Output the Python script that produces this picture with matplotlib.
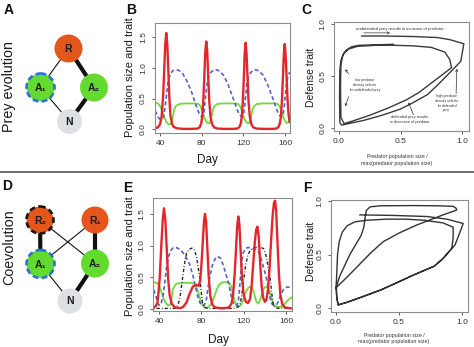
import matplotlib
matplotlib.use('Agg')
import matplotlib.pyplot as plt
from matplotlib.patches import Circle

plt.rcParams['font.family'] = ['Liberation Sans', 'DejaVu Sans']

# ---------------- data ----------------
# Panel B (prey evolution) time series
b_red_day = [35, 36, 38, 40, 41.5, 43, 44, 45, 46, 47, 48, 49, 50, 51.5, 53, 56, 62, 70,
             76, 78, 79.5, 80.5, 81.5, 82.5, 83.5, 84.4, 85.3, 86.3, 87.3, 88.5, 90, 92, 95, 102, 110,
             114, 116, 117.5, 118.5, 119.5, 120.5, 121.3, 122.2, 123, 124, 125, 126.2, 127.7, 129.5, 132.5, 140, 148,
             151.5, 153.5, 155, 156, 157, 158, 158.9, 159.7, 160.5, 161.5, 162.5, 163.5, 164.5]
b_red_val = [0.02, 0.02, 0.03, 0.08, 0.2, 0.55, 0.95, 1.38, 1.57, 1.38, 0.95, 0.5, 0.22, 0.09, 0.04, 0.015, 0.005, 0.005,
             0.01, 0.03, 0.09, 0.2, 0.45, 0.85, 1.28, 1.43, 1.28, 0.85, 0.45, 0.2, 0.08, 0.03, 0.01, 0.005, 0.005,
             0.01, 0.03, 0.09, 0.2, 0.45, 0.85, 1.25, 1.41, 1.25, 0.85, 0.45, 0.2, 0.08, 0.03, 0.01, 0.005, 0.005,
             0.01, 0.03, 0.09, 0.2, 0.45, 0.85, 1.24, 1.39, 1.24, 0.85, 0.45, 0.22, 0.12]
b_green_day = [35, 38, 40, 42, 44, 46, 48, 50, 51.5, 52.5, 53.5, 55, 57, 60, 66, 74, 77, 79, 80.5, 82, 83.5, 85.5, 87.5,
               89, 90, 91, 92.5, 95, 100, 112, 115, 117, 118.5, 120, 121.5, 123.5, 125.5, 127, 128, 129, 130.5, 133,
               138, 150, 153, 155, 156.5, 158, 159.5, 161.5, 163, 164.5]
b_green_val = [0.43, 0.42, 0.38, 0.3, 0.2, 0.12, 0.08, 0.08, 0.12, 0.22, 0.31, 0.37, 0.4, 0.415, 0.42, 0.42, 0.41, 0.37,
               0.3, 0.22, 0.15, 0.1, 0.1, 0.16, 0.26, 0.33, 0.38, 0.41, 0.42, 0.42, 0.41, 0.37, 0.3, 0.22, 0.15, 0.1,
               0.1, 0.16, 0.26, 0.33, 0.38, 0.41, 0.42, 0.42, 0.41, 0.37, 0.3, 0.22, 0.15, 0.1, 0.11, 0.16]
b_blue_day = [35, 36, 38, 40, 42, 43.5, 45, 46.5, 48, 50, 52, 55, 58, 62, 66, 70, 73, 76, 78, 80, 81.5, 82.5, 83.5, 85,
              86.5, 88.5, 91, 94, 97, 101, 105, 109, 112, 114.5, 116.5, 118.5, 120, 121, 122, 123.3, 124.8, 126.8,
              129.5, 132, 135, 139, 143, 147, 150, 152.5, 154.5, 156.5, 158, 159, 160, 161.3, 162.8, 164.5]
b_blue_val = [0.3, 0.28, 0.2, 0.16, 0.16, 0.22, 0.38, 0.6, 0.8, 0.9, 0.95, 0.97, 0.96, 0.9, 0.78, 0.62, 0.47, 0.32,
              0.24, 0.2, 0.22, 0.32, 0.5, 0.72, 0.85, 0.92, 0.96, 0.97, 0.95, 0.88, 0.74, 0.56, 0.42, 0.3, 0.23, 0.2,
              0.23, 0.33, 0.5, 0.72, 0.85, 0.92, 0.96, 0.97, 0.95, 0.88, 0.74, 0.56, 0.42, 0.3, 0.23, 0.2, 0.23, 0.33,
              0.5, 0.72, 0.87, 0.93]

# Panel E (coevolution) time series
e_red_day = [35, 37, 38.5, 39.5, 40.7, 42, 43.5, 44.7, 46, 47.3, 48.6, 50, 52, 55, 60, 63, 66, 69, 72, 75.5, 77.5, 79,
             80.3, 81.5, 82.6, 83.5, 84.5, 85.7, 87, 88.5, 90.5, 93, 100, 106, 108.5, 110, 111.5, 112.8, 114, 115,
             116, 117.2, 118.5, 120, 122, 124, 126, 127.5, 129, 130.5, 131.8, 133, 134.2, 135.5, 137, 138.5, 140,
             141.5, 143, 144.5, 146, 147.5, 148.7, 149.7, 150.7, 152, 153.3, 154.7, 156.5, 159, 165]
e_red_val = [0.02, 0.04, 0.1, 0.25, 0.5, 0.95, 1.4, 1.59, 1.4, 0.95, 0.48, 0.22, 0.08, 0.02, 0.01, 0.03, 0.1, 0.24,
             0.35, 0.38, 0.36, 0.45, 0.75, 1.1, 1.4, 1.5, 1.38, 0.95, 0.5, 0.2, 0.06, 0.02, 0.005, 0.02, 0.08, 0.22,
             0.55, 0.95, 1.33, 1.46, 1.33, 0.9, 0.48, 0.22, 0.11, 0.09, 0.15, 0.35, 0.7, 1.05, 1.25, 1.3, 1.15, 0.75,
             0.35, 0.17, 0.11, 0.14, 0.3, 0.65, 1.1, 1.5, 1.68, 1.71, 1.55, 1.05, 0.55, 0.22, 0.07, 0.02, 0.005]
e_blue_day = [35, 37, 39, 40.5, 42, 44, 45.5, 47, 49, 51, 53, 56, 60, 63, 66, 69, 72, 74, 76.5, 78.5, 80.5, 82.5, 84.5,
              86.5, 88.5, 91, 93.5, 95.5, 98, 100.5, 103, 105.5, 108, 110, 112, 113.5, 115, 116.5, 118, 119.5, 121.5,
              124, 127, 130, 133, 135.5, 138, 140.5, 142.5, 144.5, 146.5, 148.5, 151, 153, 155, 157.5, 160, 163, 165]
e_blue_val = [0.3, 0.2, 0.08, 0.05, 0.08, 0.22, 0.42, 0.64, 0.82, 0.92, 0.96, 0.97, 0.94, 0.88, 0.8, 0.7, 0.53, 0.38,
              0.2, 0.1, 0.05, 0.05, 0.12, 0.35, 0.55, 0.72, 0.8, 0.83, 0.8, 0.7, 0.56, 0.42, 0.22, 0.1, 0.05, 0.05,
              0.12, 0.4, 0.72, 0.88, 0.95, 0.97, 0.96, 0.95, 0.93, 0.85, 0.7, 0.55, 0.4, 0.2, 0.08, 0.05, 0.06, 0.12,
              0.22, 0.3, 0.34, 0.34, 0.32]
e_black_day = [35, 55, 58, 60, 62, 64, 66, 68.5, 71, 73.5, 75.5, 77, 78.6, 80, 81.2, 83, 86, 110, 114, 116.5, 118, 120,
               122, 124, 126, 130, 135, 139, 141, 143, 145, 146.5, 148, 150, 165]
e_black_val = [0.005, 0.005, 0.06, 0.2, 0.45, 0.7, 0.88, 0.94, 0.96, 0.93, 0.82, 0.65, 0.49, 0.25, 0.08, 0.02, 0.005,
               0.005, 0.02, 0.06, 0.2, 0.45, 0.7, 0.85, 0.92, 0.97, 0.98, 0.95, 0.85, 0.68, 0.49, 0.25, 0.07, 0.01,
               0.005]
e_green_day = [35, 38, 40, 42, 44, 46, 48, 50, 51.5, 53, 55, 57, 62, 70, 73, 75, 77, 79, 81, 83, 86, 88, 90, 92, 94,
               96, 98, 101, 105, 107, 108.5, 110, 111.5, 113, 115, 117, 119, 121, 123, 125, 127, 129, 130.5, 132,
               133.5, 135, 137, 139, 141, 143, 145, 147, 149, 152, 155, 158, 161, 165]
e_green_val = [0.42, 0.41, 0.37, 0.28, 0.18, 0.1, 0.06, 0.05, 0.12, 0.3, 0.37, 0.4, 0.41, 0.41, 0.4, 0.35, 0.27, 0.15,
               0.06, 0.02, 0.02, 0.05, 0.1, 0.18, 0.28, 0.36, 0.4, 0.42, 0.42, 0.4, 0.33, 0.22, 0.12, 0.06, 0.03,
               0.05, 0.12, 0.22, 0.3, 0.34, 0.35, 0.3, 0.2, 0.11, 0.08, 0.11, 0.22, 0.32, 0.35, 0.33, 0.24, 0.12,
               0.05, 0.03, 0.03, 0.06, 0.12, 0.18]

# Panel C phase loop (predator / max, defense trait)
c_pred = [0.185, 0.35, 0.6, 0.8, 0.9, 1.015, 0.99, 0.9, 0.8, 0.72, 0.6, 0.5, 0.35, 0.2, 0.08, 0.02, 0.006, 0.004,
          0.006, 0.015, 0.04, 0.08, 0.15, 0.3, 0.45, 0.6, 0.75, 0.86, 0.9, 0.915, 0.85, 0.75, 0.65, 0.55, 0.4,
          0.25, 0.1, 0.04, 0.015, 0.012, 0.015, 0.03, 0.06, 0.1, 0.16, 0.3, 0.44]
c_trait = [0.885, 0.885, 0.88, 0.87, 0.85, 0.81, 0.64, 0.53, 0.41, 0.32, 0.24, 0.18, 0.12, 0.07, 0.04, 0.025, 0.05,
           0.3, 0.55, 0.65, 0.72, 0.76, 0.785, 0.795, 0.795, 0.79, 0.775, 0.73, 0.66, 0.58, 0.52, 0.43, 0.34, 0.27,
           0.19, 0.12, 0.06, 0.04, 0.1, 0.4, 0.6, 0.7, 0.75, 0.78, 0.795, 0.8, 0.805]

# Panel F phase loop
f_pred = [0.19, 0.45, 0.72, 0.88, 1.01, 0.975, 0.945, 0.85, 0.78, 0.62, 0.5, 0.36, 0.2, 0.08, 0.016, 0.005, 0.0,
          0.005, 0.012, 0.025, 0.05, 0.09, 0.15, 0.244, 0.4, 0.55, 0.7, 0.85, 0.93, 0.93, 0.92, 0.85, 0.78, 0.62,
          0.5, 0.36, 0.2, 0.08, 0.018, 0.006, 0.003, 0.03, 0.07, 0.11, 0.16, 0.2, 0.222, 0.23, 0.24, 0.27, 0.35,
          0.6, 0.8, 0.93, 0.955, 0.958, 0.85, 0.64, 0.5, 0.375, 0.28, 0.18, 0.08, 0.0]
f_trait = [0.87, 0.865, 0.855, 0.83, 0.79, 0.68, 0.59, 0.46, 0.39, 0.31, 0.245, 0.17, 0.1, 0.05, 0.028, 0.1, 0.19,
           0.3, 0.5, 0.62, 0.71, 0.77, 0.805, 0.82, 0.83, 0.83, 0.82, 0.795, 0.755, 0.66, 0.56, 0.465, 0.392,
           0.312, 0.247, 0.172, 0.102, 0.052, 0.03, 0.1, 0.2, 0.3, 0.4, 0.5, 0.6, 0.68, 0.76, 0.84, 0.91, 0.945,
           0.955, 0.957, 0.955, 0.95, 0.93, 0.915, 0.87, 0.775, 0.7, 0.62, 0.52, 0.40, 0.28, 0.19]

day_ticks = [40, 80, 120, 160]
pop_ticks = [0.0, 0.5, 1.0, 1.5]
unit_ticks = [0.0, 0.5, 1.0]

# ---------------- styles / layout ----------------
W, H = 474, 347
RED = '#e3262b'
GREEN_L = '#72d93c'
BLUE_L = '#5362c8'
BLACK_L = '#2a2a2a'
ORANGE = '#e4561c'
GREEN_N = '#63db2e'
GRAY_N = '#dde1e4'

fig = plt.figure(figsize=(W / 100, H / 100), dpi=100)


def rect(l, t, r, b):
    return [l / W, 1 - b / H, (r - l) / W, (b - t) / H]


def ftext(x, y, s, **kw):
    fig.text(x / W, 1 - y / H, s, **kw)


bg = fig.add_axes([0, 0, 1, 1])
bg.set_xlim(0, W)
bg.set_ylim(H, 0)
bg.axis('off')

# separator
bg.plot([0, W], [172, 172], color='#6e6e6e', lw=1.4, solid_capstyle='butt')


def network(nodes, edges):
    for a, b, w in edges:
        xa, ya = nodes[a][0], nodes[a][1]
        xb, yb = nodes[b][0], nodes[b][1]
        bg.plot([xa, xb], [ya, yb], color='#111111', lw=w, zorder=1, solid_capstyle='butt')
    for name, (x, y, r, col, edge, label) in nodes.items():
        if edge is None:
            c = Circle((x, y), r, facecolor=col, edgecolor='none', zorder=2)
        else:
            c = Circle((x, y), r, facecolor=col, edgecolor=edge, lw=1.9,
                       linestyle=(0, (2.2, 1.3)), zorder=2)
        bg.add_patch(c)
        bg.text(x, y + 0.5, label, ha='center', va='center', fontsize=7.5, fontweight='bold',
                color='#1e1e1e', zorder=3)


nodes_a = {
    'R': (68.5, 48.5, 14, ORANGE, None, 'R'),
    'A1': (40.5, 87.5, 14, GREEN_N, '#2c6fd8', 'A₁'),
    'A2': (94.0, 87.5, 14, GREEN_N, None, 'A₂'),
    'N': (69.5, 121.5, 12.5, GRAY_N, None, 'N'),
}
edges_a = [('R', 'A1', 0.8), ('R', 'A2', 3.0), ('A1', 'N', 0.8), ('A2', 'N', 3.0)]
network(nodes_a, edges_a)

nodes_d = {
    'R2': (40.0, 220.0, 13.5, ORANGE, '#151515', 'R₂'),
    'R1': (95.0, 220.0, 13.5, ORANGE, None, 'R₁'),
    'A1': (40.5, 264.0, 14, GREEN_N, '#2c6fd8', 'A₁'),
    'A2': (95.0, 263.5, 14, GREEN_N, None, 'A₂'),
    'N': (70.0, 301.0, 12.5, GRAY_N, None, 'N'),
}
edges_d = [('R2', 'A1', 3.0), ('R1', 'A2', 3.0), ('R2', 'A2', 0.8), ('R1', 'A1', 0.8),
           ('A1', 'N', 0.8), ('A2', 'N', 3.0)]
network(nodes_d, edges_d)

# side titles and panel letters
ftext(9, 86, 'Prey evolution', rotation=90, ha='center', va='center', fontsize=10.3, color='#1a1a1a')
ftext(9, 247, 'Coevolution', rotation=90, ha='center', va='center', fontsize=10.3, color='#1a1a1a')
for (x, y, s) in [(9, 10, 'A'), (131.5, 10, 'B'), (306, 10, 'C'),
                  (7.5, 186.5, 'D'), (127.5, 187.5, 'E'), (307.5, 187.5, 'F')]:
    ftext(x, y, s, ha='center', va='center', fontsize=10, fontweight='bold', color='#111111')


def style(ax, xt, xl, yt, yl):
    for s in ax.spines.values():
        s.set_color('#8c8c8c')
        s.set_linewidth(0.8)
    ax.set_xticks(xt)
    ax.set_xticklabels(xl)
    ax.set_yticks(yt)
    ax.set_yticklabels(yl, rotation=90, va='center')
    ax.tick_params(axis='both', direction='out', length=2.5, width=0.6, colors='#444444',
                   labelsize=6, labelcolor='#333333')
    ax.tick_params(axis='x', pad=2.5)
    ax.tick_params(axis='y', pad=3)


def timeseries(ax, red, green, blue, black=None):
    ax.plot(green[0], green[1], color=GREEN_L, lw=1.3)
    ax.plot(blue[0], blue[1], color=BLUE_L, lw=1.2, linestyle=(0, (2.4, 1.6)))
    if black is not None:
        ax.plot(black[0], black[1], color=BLACK_L, lw=1.0, linestyle=(0, (0.6, 1.4, 2.4, 1.4)))
    ax.plot(red[0], red[1], color=RED, lw=1.7)


# Panel B
axB = fig.add_axes(rect(154.5, 23.3, 289.5, 133.3))
timeseries(axB, (b_red_day, b_red_val), (b_green_day, b_green_val), (b_blue_day, b_blue_val))
axB.set_xlim(34.7, 164.3)
axB.set_ylim(-0.067, 1.727)
style(axB, day_ticks, [str(d) for d in day_ticks], pop_ticks, ['%.1f' % v for v in pop_ticks])
ftext(130, 77, 'Population size and trait', rotation=90, ha='center', va='center', fontsize=8, color='#1a1a1a')
ftext(207, 160, 'Day', ha='center', va='center', fontsize=8.5, color='#1a1a1a')

# Panel E
axE = fig.add_axes(rect(153.3, 198, 291.7, 311))
timeseries(axE, (e_red_day, e_red_val), (e_green_day, e_green_val), (e_blue_day, e_blue_val),
           (e_black_day, e_black_val))
axE.set_xlim(34.6, 165.4)
axE.set_ylim(-0.036, 1.753)
style(axE, day_ticks, [str(d) for d in day_ticks], pop_ticks, ['%.1f' % v for v in pop_ticks])
ftext(130, 256, 'Population size and trait', rotation=90, ha='center', va='center', fontsize=8, color='#1a1a1a')
ftext(218, 340, 'Day', ha='center', va='center', fontsize=8.5, color='#1a1a1a')

# Panel C
axC = fig.add_axes(rect(334, 22, 469, 131))
axC.plot(c_pred, c_trait, color='#3a3a3a', lw=1.0)
axC.set_xlim(-0.041, 1.057)
axC.set_ylim(-0.032, 1.02)
style(axC, unit_ticks, ['%.1f' % v for v in unit_ticks], unit_ticks, ['%.1f' % v for v in unit_ticks])
ftext(311, 77, 'Defense trait', rotation=90, ha='center', va='center', fontsize=7.5, color='#1a1a1a')
ftext(397, 157, 'Predator population size /', ha='center', va='center', fontsize=3.8, color='#333333')
ftext(397, 163.5, 'max(predator population size)', ha='center', va='center', fontsize=3.8, color='#333333')

ann_kw = dict(ha='center', va='center', color='#333333')
arrow_kw = dict(arrowstyle='->', lw=0.5, color='#333333', mutation_scale=4, shrinkA=0, shrinkB=0)
axC.text(0.496, 0.952, 'undefended prey results in increase of predator', fontsize=3.1, **ann_kw)
axC.annotate('', xy=(0.415, 0.915), xytext=(0.2, 0.915), arrowprops=arrow_kw)
axC.text(0.21, 0.414, 'low predator\ndensity selects\nfor undefended prey', fontsize=2.5, linespacing=1.4, **ann_kw)
axC.annotate('', xy=(0.05, 0.565), xytext=(0.078, 0.52), arrowprops=arrow_kw)
axC.annotate('', xy=(0.05, 0.205), xytext=(0.078, 0.30), arrowprops=arrow_kw)
axC.text(0.875, 0.237, 'high predator\ndensity selects\nfor defended\nprey', fontsize=2.5, linespacing=1.3, **ann_kw)
axC.annotate('', xy=(0.958, 0.57), xytext=(0.952, 0.33), arrowprops=arrow_kw)
axC.text(0.577, 0.082, 'defended prey results\nin decrease of predator', fontsize=2.8, linespacing=1.3, **ann_kw)
axC.annotate('', xy=(0.565, 0.245), xytext=(0.605, 0.125), arrowprops=arrow_kw)

# Panel F
axF = fig.add_axes(rect(331, 200, 468, 312))
axF.plot(f_pred, f_trait, color='#333333', lw=1.0)
axF.set_xlim(-0.04, 1.048)
axF.set_ylim(-0.037, 1.009)
style(axF, unit_ticks, ['%.1f' % v for v in unit_ticks], unit_ticks, ['%.1f' % v for v in unit_ticks])
ftext(311, 251, 'Defense trait', rotation=90, ha='center', va='center', fontsize=7.5, color='#1a1a1a')
ftext(394, 335, 'Predator population size /', ha='center', va='center', fontsize=3.8, color='#333333')
ftext(394, 342, 'max(predator population size)', ha='center', va='center', fontsize=3.8, color='#333333')

fig.savefig('out.png', dpi=100)
